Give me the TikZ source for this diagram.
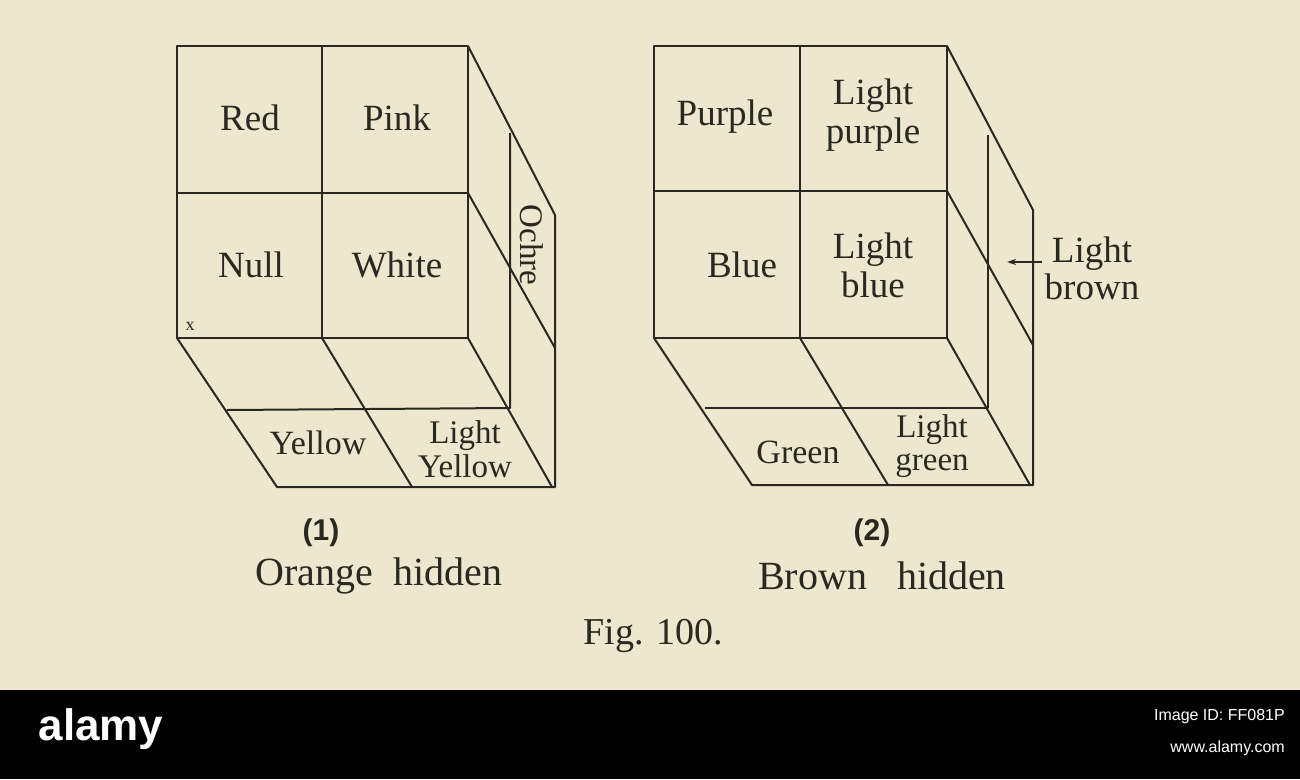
\documentclass[tikz,border=0pt]{standalone}
\usepackage{fontspec}
\setmainfont{Liberation Serif}
\newfontfamily\sansb{Liberation Sans}
\usetikzlibrary{arrows.meta}
\definecolor{paper}{HTML}{ECE7CE}
\definecolor{ink}{HTML}{2A2820}
\begin{document}
\begin{tikzpicture}[x=1pt,y=-1pt,
  edge/.style={draw=ink,line width=2pt,line join=round},
  lbl/.style={text=ink,font=\fontsize{37}{37}\selectfont,align=center,inner sep=0pt},
  captxt/.style={text=ink,font=\fontsize{40}{40}\selectfont,inner sep=0pt}]
\fill[paper] (0,0) rectangle (1300,690);
\fill[black] (0,690) rectangle (1300,779);
\useasboundingbox (0,0) rectangle (1300,779);
% ---- cube 1
\draw[edge] (177,46) rectangle (468,338);
\draw[edge] (322,46) -- (322,338) (177,193) -- (468,193);
\draw[edge] (468,46) -- (555,215) -- (555,487) -- (277,487) -- (177,338);
\draw[edge] (510,133) -- (510,408) -- (227,410);
\draw[edge] (468,193) -- (555,348);
\draw[edge] (322,338) -- (412,487);
\draw[edge] (468,338) -- (552,487);
\node[lbl] (red) at (250,118) {Red};
\node[lbl] (pink) at (397,118) {Pink};
\node[lbl] (null) at (251,265) {Null};
\node[lbl] (white) at (397,265) {White};
\node[lbl,rotate=-90,font=\fontsize{33}{33}\selectfont] (ochre) at (532,245) {Ochre};
\node[lbl,font=\fontsize{18}{18}\selectfont] (x) at (190,326) {x};
\node[lbl,font=\fontsize{34}{34}\selectfont] (yellow) at (318,443) {Yellow};
\node[lbl,font=\fontsize{33}{34}\selectfont] (lyellow) at (465,449) {Light\\Yellow};
% ---- cube 2
\draw[edge] (654,46) rectangle (947,338);
\draw[edge] (800,46) -- (800,338) (654,191) -- (947,191);
\draw[edge] (947,46) -- (1033,210) -- (1033,485) -- (752,485) -- (654,338);
\draw[edge] (988,135) -- (988,408) -- (705,408);
\draw[edge] (947,191) -- (1033,345);
\draw[edge] (800,338) -- (888,485);
\draw[edge] (947,338) -- (1030,485);
\node[lbl] (purple) at (725,117) {Purple};
\node[lbl] (lpurple) at (873,115) {Light\\[2pt]purple};
\node[lbl] (blue) at (742,265) {Blue};
\node[lbl] (lblue) at (873,265) {Light\\[2pt]blue};
\node[lbl,font=\fontsize{34}{34}\selectfont] (green) at (798,452) {Green};
\node[lbl,font=\fontsize{33}{33}\selectfont] (lgreen) at (932,446) {Light\\green};
\node[lbl] (lbrown) at (1092,268) {Light\\brown};
\coordinate (arrend) at (1007,262);
\draw[ink,line width=1.5pt,-{Stealth[length=9pt,width=6pt]}] (1042,262) -- (arrend);
% ---- captions
\node[captxt,font=\fontsize{30}{30}\selectfont\bfseries\sansb] (c1) at (321,533) {(1)};
\node[captxt] (o) at (379,576) {Orange\ \ hidden};
\node[captxt,font=\fontsize{30}{30}\selectfont\bfseries\sansb] (c2) at (872,533) {(2)};
\node[captxt] (b) at (882,576) {Brown\ \ \ hidden};
\node[captxt,font=\fontsize{38}{38}\selectfont] (fig) at (653,636) {Fig. 100.};
% ---- bar
\node[text=white,font=\sansb\bfseries\fontsize{44}{44}\selectfont,inner sep=0pt] (logo) at (101,729) {alamy};
\node[text=white,font=\sansb\fontsize{16}{18}\selectfont,anchor=east,inner sep=0pt] (id) at (1285,717) {Image ID: FF081P};
\node[text=white,font=\sansb\fontsize{16}{18}\selectfont,anchor=east,inner sep=0pt] (www) at (1285,748) {www.alamy.com};
\end{tikzpicture}
\end{document}
